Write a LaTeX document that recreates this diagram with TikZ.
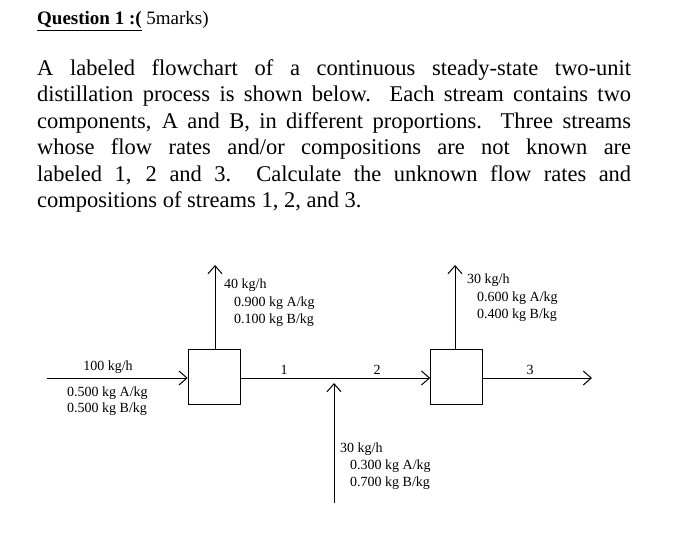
\documentclass[tikz,border=0pt]{standalone}
\usepackage{fontspec}
\setmainfont{Liberation Serif}
\usetikzlibrary{arrows.meta}
\begin{document}
\begin{tikzpicture}[x=1pt,y=-1pt,
  flow/.style={line width=1pt,-{Straight Barb[length=8pt,width=14pt,line width=1pt]}},
  unit/.style={draw,line width=0.6pt,minimum width=52pt,minimum height=55pt,inner sep=0},
  lbl/.style={font=\fontsize{14}{16}\selectfont,inner sep=0},
  para/.style={font=\fontsize{22.5}{26.5}\selectfont,text width=594pt,align=justify,inner sep=0}]
\useasboundingbox (0,0) rectangle (700,537);
\node[anchor=base west,inner sep=0,font=\fontsize{19}{22}\selectfont] (title) at (37,25) {\underline{\textbf{Question 1 :(}} 5marks)};
\node[para,anchor=north west] (text) at (37,59) {A labeled flowchart of a continuous steady-state two-unit\linebreak distillation process is shown below. Each stream contains two\linebreak components, A and B, in different proportions. Three streams\linebreak whose flow rates and/or compositions are not known are\linebreak labeled 1, 2 and 3.\ \ Calculate the unknown flow rates and\linebreak compositions of streams 1, 2, and 3.};
\node[unit] (u1) at (214,377) {};
\node[unit] (u2) at (456.5,377) {};
\coordinate (in) at (47,378);
\coordinate (top1) at (215,265);
\coordinate (top2) at (455,265);
\coordinate (bot) at (334,503);
\coordinate (bend) at (334,383);
\coordinate (out) at (592,378);
\draw[flow] (in) -- (in -| u1.west);
\draw[flow] (u1.east |- in) -- (u2.west |- in);
\draw[flow] (u2.east |- in) -- (out);
\draw[flow] (u1.north -| top1) -- (top1);
\draw[flow] (u2.north -| top2) -- (top2);
\draw[flow] (bot) -- (bend);
\node[lbl] (l1) at (284,370) {1};
\node[lbl] (l2) at (377,370) {2};
\node[lbl] (l3) at (530,370) {3};
\node[lbl] (a1) at (108,367) {100 kg/h};
\node[lbl,anchor=west] (a2) at (67,393) {0.500 kg A/kg};
\node[lbl,anchor=west] (a3) at (67,409) {0.500 kg B/kg};
\node[lbl,anchor=west] (b1) at (224,285) {40 kg/h};
\node[lbl,anchor=west] (b2) at (234,303) {0.900 kg A/kg};
\node[lbl,anchor=west] (b3) at (234,320) {0.100 kg B/kg};
\node[lbl,anchor=west] (c1) at (467,280) {30 kg/h};
\node[lbl,anchor=west] (c2) at (477,298) {0.600 kg A/kg};
\node[lbl,anchor=west] (c3) at (477,315) {0.400 kg B/kg};
\node[lbl,anchor=west] (d1) at (340,449) {30 kg/h};
\node[lbl,anchor=west] (d2) at (350,466) {0.300 kg A/kg};
\node[lbl,anchor=west] (d3) at (350,483) {0.700 kg B/kg};
\end{tikzpicture}
\end{document}
